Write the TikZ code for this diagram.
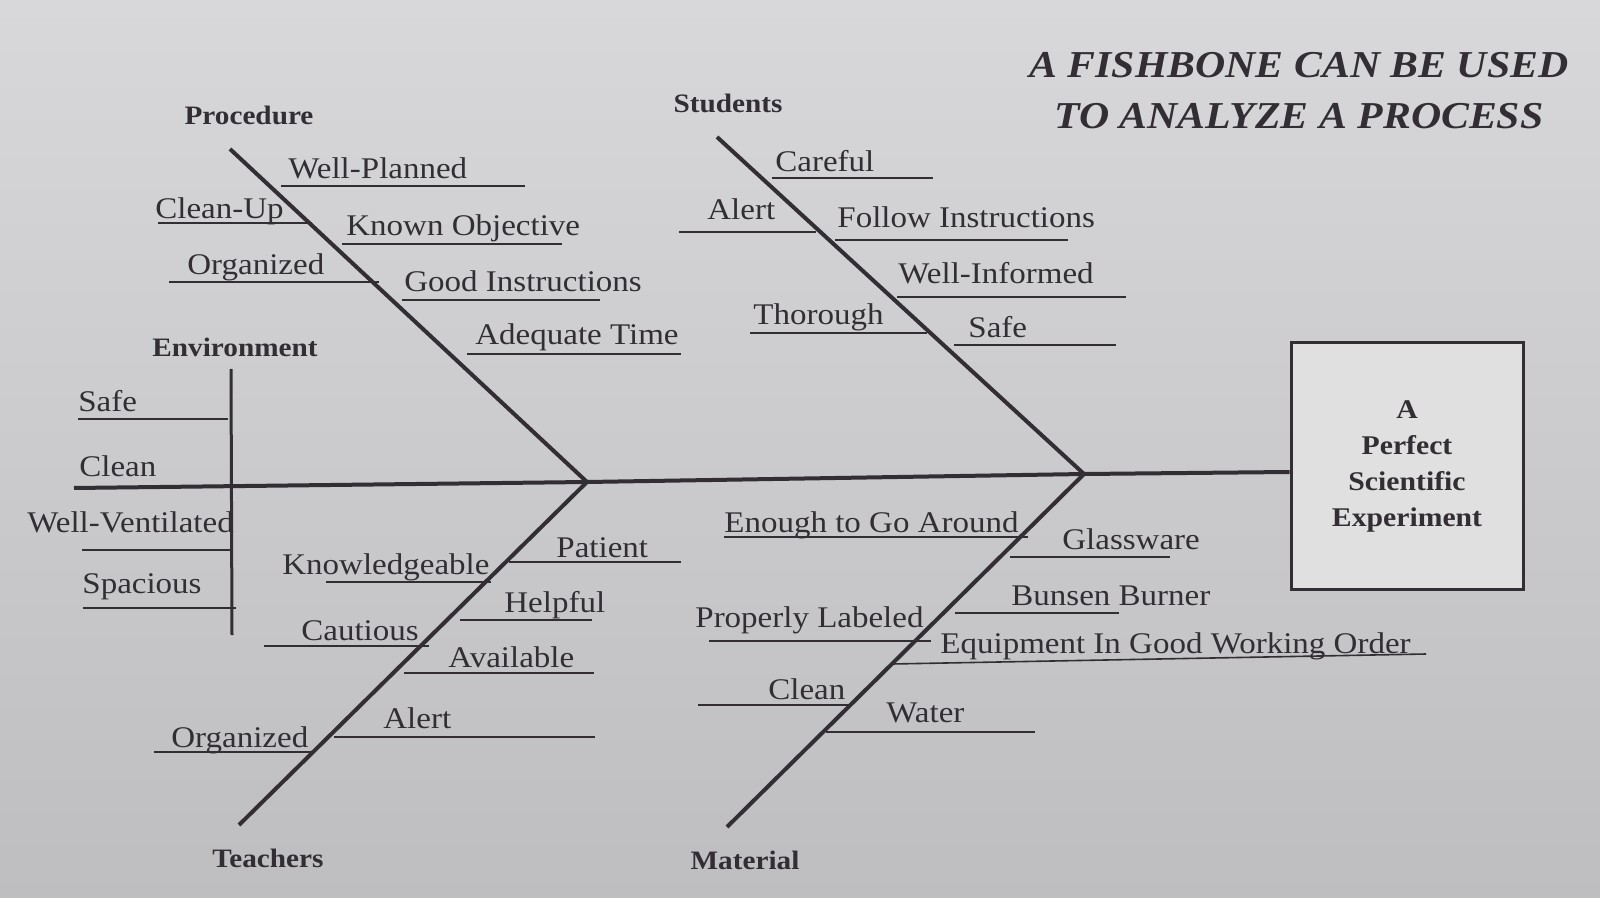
\documentclass[tikz,border=0pt]{standalone}
\usepackage{fontspec}
\setmainfont{Liberation Serif}[FakeStretch=1.10]
\definecolor{ink}{RGB}{50,46,52}
\definecolor{bgtop}{RGB}{216,216,218}
\definecolor{bgbot}{RGB}{190,190,192}
\definecolor{boxfill}{RGB}{224,224,224}
\tikzset{
 lbl/.style={anchor=base west, inner sep=0pt, text=ink, font=\fontsize{15}{18}\selectfont},
 hdr/.style={inner sep=0pt, text=ink, font=\bfseries\fontsize{13.3}{16}\selectfont},
 ttl/.style={inner sep=0pt, anchor=base, text=ink, font=\bfseries\itshape\fontsize{19}{24}\selectfont},
 bone/.style={draw=ink, line width=2pt},
 uline/.style={draw=ink, line width=0.8pt},
 effect/.style={draw=ink, line width=1.5pt, fill=boxfill, minimum width=116pt, minimum height=123pt,
   align=center, text=ink, font=\bfseries\fontsize{13.5}{18}\selectfont},
}
\begin{document}
\begin{tikzpicture}[x=0.5pt,y=-0.5pt]
\useasboundingbox (0,0) rectangle (1600,898);
\shade[top color=bgtop, bottom color=bgbot] (0,0) rectangle (1600,898);

% title
\node[ttl] (title1) at (1299,78) {A FISHBONE CAN BE USED};
\node[ttl] (title2) at (1299,129) {TO ANALYZE A PROCESS};

% effect box
\node[effect] (box) at (1407,466) {A\\Perfect\\Scientific\\Experiment};

% spine and bones
\coordinate (spineL) at (74,488);
\coordinate (apex1) at (587,482);
\coordinate (apex2) at (1084,474);
\path (box.west) ++(0,6) coordinate (spineR);
\coordinate (procTop) at (230,149);
\coordinate (teachBot) at (239,825);
\coordinate (studTop) at (717,137);
\coordinate (matBot) at (727,827);
\coordinate (envTop) at (231,369);
\coordinate (envBot) at (232,635);
\draw[bone] (spineL) -- (apex1) -- (apex2) -- (spineR);
\draw[bone] (procTop) -- (apex1);
\draw[bone] (teachBot) -- (apex1);
\draw[bone] (studTop) -- (apex2);
\draw[bone] (matBot) -- (apex2);
\draw[draw=ink, line width=1.5pt] (envTop) -- (envBot);

% headers
\node[hdr] (hProc) at (249,115) {Procedure};
\node[hdr] (hEnv) at (235,347) {Environment};
\node[hdr] (hTeach) at (268,858) {Teachers};
\node[hdr] (hStud) at (728,103) {Students};
\node[hdr] (hMat) at (745,860) {Material};

% Procedure
\node[lbl] (p1) at (288,179) {Well-Planned};      \draw[uline] (281,186) -- (525,186);
\node[lbl] (p2) at (155,219) {Clean-Up};          \draw[uline] (158,223) -- (312,223);
\node[lbl] (p3) at (346,236) {Known Objective};   \draw[uline] (342,244) -- (562,244);
\node[lbl] (p4) at (187,275) {Organized};         \draw[uline] (169,282) -- (379,282);
\node[lbl] (p5) at (404,292) {Good Instructions}; \draw[uline] (402,300) -- (600,300);
\node[lbl] (p6) at (475,345) {Adequate Time};     \draw[uline] (467,354) -- (681,354);

% Environment
\node[lbl] (e1) at (78,412) {Safe};               \draw[uline] (78,419) -- (228,419);
\node[lbl] (e2) at (79,476) {Clean};
\node[lbl] (e3) at (27,532) {Well-Ventilated};    \draw[uline] (82,550) -- (230,550);
\node[lbl] (e4) at (82,593) {Spacious};           \draw[uline] (83,608) -- (236,608);

% Teachers
\node[lbl] (t1) at (282,574) {Knowledgeable};     \draw[uline] (326,582) -- (491,582);
\node[lbl] (t2) at (556,557) {Patient};           \draw[uline] (509,562) -- (681,562);
\node[lbl] (t3) at (504,612) {Helpful};           \draw[uline] (460,620) -- (592,620);
\node[lbl] (t4) at (301,640) {Cautious};          \draw[uline] (264,646) -- (429,646);
\node[lbl] (t5) at (448,667) {Available};         \draw[uline] (404,673) -- (594,673);
\node[lbl] (t6) at (383,728) {Alert};             \draw[uline] (334,737) -- (595,737);
\node[lbl] (t7) at (171,747) {Organized};         \draw[uline] (154,752) -- (312,752);

% Students
\node[lbl] (s1) at (775,172) {Careful};           \draw[uline] (772,178) -- (933,178);
\node[lbl] (s2) at (707,220) {Alert};             \draw[uline] (679,232) -- (816,232);
\node[lbl] (s3) at (837,228) {Follow Instructions}; \draw[uline] (835,240) -- (1068,240);
\node[lbl] (s4) at (898,284) {Well-Informed};     \draw[uline] (897,297) -- (1126,297);
\node[lbl] (s5) at (753,325) {Thorough};          \draw[uline] (750,333) -- (927,333);
\node[lbl] (s6) at (968,338) {Safe};              \draw[uline] (954,345) -- (1116,345);

% Material
\node[lbl] (m1) at (724,532) {Enough to Go Around}; \draw[uline] (724,537) -- (1028,537);
\node[lbl] (m2) at (1062,549) {Glassware};        \draw[uline] (1010,557) -- (1170,557);
\node[lbl] (m3) at (1011,605) {Bunsen Burner};    \draw[uline] (955,613) -- (1119,613);
\node[lbl] (m4) at (695,627) {Properly Labeled};  \draw[uline] (709,641) -- (931,641);
\node[lbl] (m5) at (940,653) {Equipment In Good Working Order}; \draw[uline] (892,664) -- (1426,654);
\node[lbl] (m6) at (768,699) {Clean};             \draw[uline] (698,705) -- (852,705);
\node[lbl] (m7) at (886,722) {Water};             \draw[uline] (826,732) -- (1035,732);
\end{tikzpicture}
\end{document}
